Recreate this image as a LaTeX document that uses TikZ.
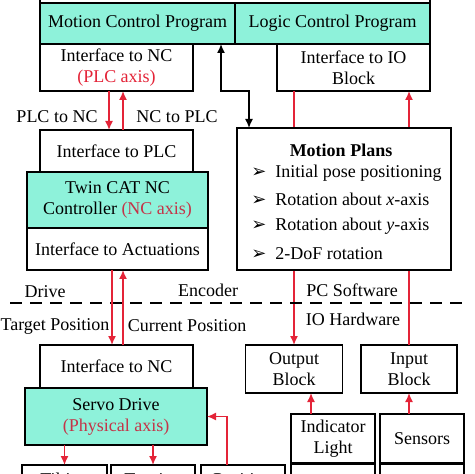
\documentclass[tikz,border=0pt]{standalone}
\usepackage{fontspec}
\setmainfont{Liberation Serif}
\newfontfamily\dingfont{DejaVu Sans}
\usetikzlibrary{arrows.meta,positioning}
\definecolor{cyanfill}{RGB}{142,242,218}
\definecolor{sigred}{RGB}{228,36,56}
\definecolor{axisred}{RGB}{196,52,72}
\newcommand{\axistext}[1]{\textcolor{axisred}{#1}}
\newcommand{\pointer}{{\dingfont\fontsize{9}{10}\selectfont ➢}\ \ }
\tikzset{
    %Define standard arrow tip
    >={Latex[length=4.5pt,width=4pt]},
    font=\fontsize{9}{10.5}\selectfont,
    %Define style for boxes
    block/.style={
           rectangle,
           draw=black, line width=0.8pt,
           fill=white,
           align=center,
           inner sep=0pt, outer sep=0pt},
    program/.style={block, fill=cyanfill},
    % Define arrow styles
    redpil/.style={
           ->,
           draw=sigred,
           line width=0.75pt},
    blackpil/.style={
           <->,
           draw=black,
           line width=0.75pt},
    % Define label and list styles
    lbl/.style={inner sep=0pt},
    item/.style={inner sep=0pt, minimum height=13pt, anchor=west},
    separator/.style={dash pattern=on 6pt off 4pt, line width=0.7pt}
}

\begin{document}
\begin{tikzpicture}[x=0.5pt,y=-0.5pt]
  \useasboundingbox (0,0) rectangle (474,474);
  % PLC runtime
  \node[block, minimum width=195pt, minimum height=22pt] (runtime) at (235,-19) {};
  \node[program, minimum width=97.5pt, minimum height=20.5pt] (mcp) at (137.5,23.5) {Motion Control Program};
  \node[program, minimum width=97.5pt, minimum height=20.5pt] (lcp) at (332.5,23.5) {Logic Control Program};
  \node[block, minimum width=76.5pt, minimum height=23.5pt] (ncif) at (116.5,67.5) {Interface to NC\\\textcolor{sigred}{(PLC axis)}};
  \node[block, minimum width=76.5pt, minimum height=23.5pt] (ioif) at (353.5,67.5) {Interface to IO\\Block};
  % NC task
  \node[block, minimum width=76.5pt, minimum height=21pt] (plcif) at (116.5,151) {Interface to PLC};
  \node[program, minimum width=90.5pt, minimum height=28pt] (ncctrl) at (117.5,200) {Twin CAT NC\\Controller \axistext{(NC axis)}};
  \node[block, minimum width=90.5pt, minimum height=21pt] (actif) at (117.5,249) {Interface to Actuations};
  % IO hardware
  \node[block, minimum width=48.5pt, minimum height=24pt] (out) at (294,369) {Output\\Block};
  \node[block, minimum width=48pt, minimum height=24pt] (in) at (409,369) {Input\\Block};
  \node[block, minimum width=42pt, minimum height=24.5pt] (light) at (333,438.5) {Indicator\\Light};
  \node[block, minimum width=42pt, minimum height=24.5pt] (sensors) at (422,438.5) {Sensors};
  \node[block, minimum width=42pt, minimum height=22pt, below=0.5pt of light] (lightlow) {};
  \node[block, minimum width=42pt, minimum height=22pt, below=0.5pt of sensors] (sensorslow) {};
  % IO signals behind the plans
  \draw[redpil] (ioif.south -| out.north) -- (out.north);
  \draw[redpil] (in.north) -- (in.north |- ioif.south);
  % Motion plans
  \node[block, minimum width=107pt, minimum height=71pt] (plans) at (344,199) {};
  \node[lbl] (planstitle) at (341,150) {\bfseries Motion Plans};
  \node[item] (plan1) at (251,173) {\pointer Initial pose positioning};
  \node[item, below right=0pt and 0pt of plan1.south west] (plan2) {\pointer Rotation about \textit{x}-axis};
  \node[item, below right=0pt and 0pt of plan2.south west] (plan3) {\pointer Rotation about \textit{y}-axis};
  \node[item, below right=0pt and 0pt of plan3.south west] (plan4) {\pointer 2-DoF rotation};
  % Servo side
  \node[block, minimum width=76.5pt, minimum height=21.5pt] (servoif) at (116.5,366.5) {Interface to NC};
  \node[program, minimum width=91pt, minimum height=28.5pt] (servo) at (116,416.5) {Servo Drive\\\axistext{(Physical axis)}};
  \node[block, minimum width=42.5pt, minimum height=25pt] (motor1) at (64.5,490) {Tilting\\Motor};
  \node[block, minimum width=42pt, minimum height=25pt] (motor2) at (153,490) {Turning\\Motor};
  \node[block, minimum width=42pt, minimum height=25pt] (possensor) at (243,490) {Position\\Sensor};
  % Labels
  \node[lbl] (plc2nc) at (57,117) {PLC to NC};
  \node[lbl] (nc2plc) at (177,117) {NC to PLC};
  \node[lbl] (drive) at (45,292) {Drive};
  \node[lbl] (encoder) at (208,290) {Encoder};
  \node[lbl] (pcsw) at (352,290) {PC Software};
  \node[lbl] (iohw) at (353,319) {IO Hardware};
  \node[lbl] (target) at (55,326) {Target Position};
  \node[lbl] (current) at (187,326) {Current Position};
  % Separator
  \coordinate (sepleft) at (10,303);
  \coordinate (sepright) at (466,303);
  \draw[separator] (sepleft) -- (sepright);
  % Connectors
  \coordinate (knick1) at (221,91);
  \coordinate (knick2) at (249,91);
  \draw[blackpil] (mcp.south -| knick1) -- (knick1) -- (knick2) -- (plans.north -| knick2);
  \draw[redpil] ([xshift=-3.75pt]ncif.south) -- ([xshift=-3.75pt]ncif.south |- plcif.north);
  \draw[redpil] ([xshift=3.25pt]ncif.south |- plcif.north) -- ([xshift=3.25pt]ncif.south);
  \draw[redpil] ([xshift=-2.75pt]actif.south) -- ([xshift=-2.75pt]actif.south |- servoif.north);
  \draw[redpil] ([xshift=2.75pt]actif.south |- servoif.north) -- ([xshift=2.75pt]actif.south);
  \draw[redpil] (servo.south -| motor1.north) -- (motor1.north);
  \draw[redpil] (servo.south -| motor2.north) -- (motor2.north);
  \draw[redpil] ([xshift=-8pt]possensor.north) |- (servo.east);
  \draw[redpil] ([xshift=-11pt]light.north) -- ([xshift=-11pt]light.north |- out.south);
  \draw[redpil] (sensors.north -| in.south) -- (in.south);
\end{tikzpicture}
\end{document}
